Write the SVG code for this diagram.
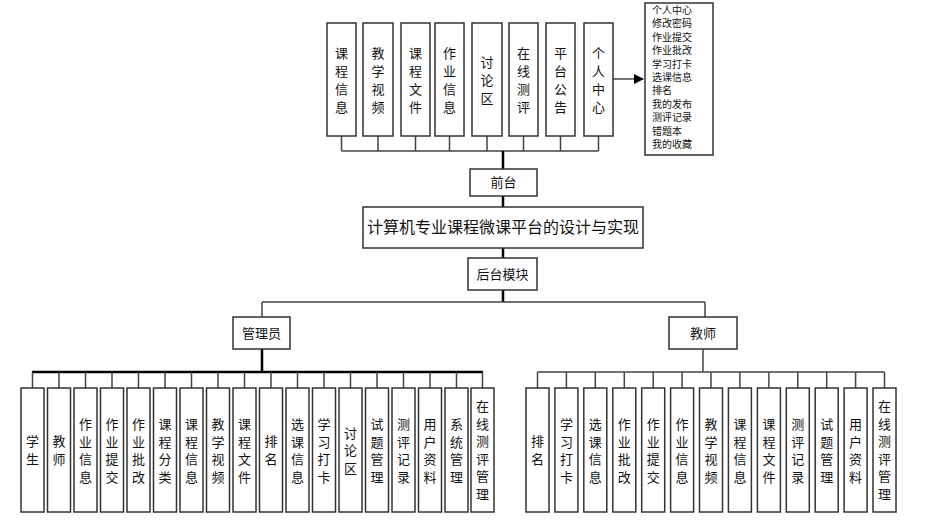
<svg xmlns="http://www.w3.org/2000/svg" width="926" height="529" viewBox="0 0 926 529">
<style>
rect{fill:#fff;stroke:#333;stroke-width:1.5}
text{font-family:"Noto Sans CJK SC",sans-serif;font-size:13px;fill:#111;text-anchor:middle}
.l{fill:none;stroke:#444;stroke-width:1.5}
.t{fill:none;stroke:#000;stroke-width:2.5}
.list{text-anchor:start;font-size:10px}
</style>
<defs><marker id="a" markerWidth="10" markerHeight="10" refX="9" refY="5" orient="auto" markerUnits="userSpaceOnUse"><path d="M0,0L10,5L0,10z" fill="#000"/></marker></defs>
<g id="connectors">
<path class="l" d="M341.5,136V151M378,136V151M415.5,136V151M449.5,136V151M487,136V151M523.5,136V151M560.5,136V151M598.5,136V151M341.5,151H598.5"/>
<path class="t" d="M503,151V169M503,196V207M503,248V258M503,290V302"/>
<path class="l" d="M613,79H643" marker-end="url(#a)"/>
<path class="l" d="M262,302H705M262,302V317M705,302V317"/>
<path class="t" d="M262,349V372M32,372H483"/>
<path class="l" d="M32.5,372V388M59,372V388M85.5,372V388M112,372V388M138.5,372V388M165,372V388M191.5,372V388M218,372V388M244.5,372V388M271,372V388M297.5,372V388M324,372V388M350.5,372V388M377,372V388M403.5,372V388M430,372V388M456.5,372V388M482.5,372V388"/>
<path class="l" d="M703,349V372M537.5,372H884.5M537.5,372V388M566.4,372V388M595.3,372V388M624.3,372V388M653.2,372V388M682.1,372V388M711,372V388M739.9,372V388M768.9,372V388M797.8,372V388M826.7,372V388M855.6,372V388M884.5,372V388"/>
</g>
<g id="top">
<g id="n1"><rect x="327" y="23" width="29" height="113"/><text><tspan x="341.5" y="58">课</tspan><tspan x="341.5" y="76">程</tspan><tspan x="341.5" y="94">信</tspan><tspan x="341.5" y="112">息</tspan></text></g>
<g id="n2"><rect x="363" y="23" width="30" height="113"/><text><tspan x="378" y="58">教</tspan><tspan x="378" y="76">学</tspan><tspan x="378" y="94">视</tspan><tspan x="378" y="112">频</tspan></text></g>
<g id="n3"><rect x="401" y="23" width="29" height="113"/><text><tspan x="415.5" y="58">课</tspan><tspan x="415.5" y="76">程</tspan><tspan x="415.5" y="94">文</tspan><tspan x="415.5" y="112">件</tspan></text></g>
<g id="n4"><rect x="435" y="23" width="29" height="113"/><text><tspan x="449.5" y="58">作</tspan><tspan x="449.5" y="76">业</tspan><tspan x="449.5" y="94">信</tspan><tspan x="449.5" y="112">息</tspan></text></g>
<g id="n5"><rect x="472" y="23" width="30" height="113"/><text><tspan x="487" y="67">讨</tspan><tspan x="487" y="85">论</tspan><tspan x="487" y="103">区</tspan></text></g>
<g id="n6"><rect x="509" y="23" width="29" height="113"/><text><tspan x="523.5" y="58">在</tspan><tspan x="523.5" y="76">线</tspan><tspan x="523.5" y="94">测</tspan><tspan x="523.5" y="112">评</tspan></text></g>
<g id="n7"><rect x="546" y="23" width="29" height="113"/><text><tspan x="560.5" y="58">平</tspan><tspan x="560.5" y="76">台</tspan><tspan x="560.5" y="94">公</tspan><tspan x="560.5" y="112">告</tspan></text></g>
<g id="n8"><rect x="584" y="23" width="29" height="113"/><text><tspan x="598.5" y="58">个</tspan><tspan x="598.5" y="76">人</tspan><tspan x="598.5" y="94">中</tspan><tspan x="598.5" y="112">心</tspan></text></g>
<g id="list"><rect x="645" y="3" width="68" height="152"/><text class="list"><tspan x="652" y="14">个人中心</tspan><tspan x="652" y="27.4">修改密码</tspan><tspan x="652" y="40.8">作业提交</tspan><tspan x="652" y="54.2">作业批改</tspan><tspan x="652" y="67.6">学习打卡</tspan><tspan x="652" y="81">选课信息</tspan><tspan x="652" y="94.4">排名</tspan><tspan x="652" y="107.8">我的发布</tspan><tspan x="652" y="121.2">测评记录</tspan><tspan x="652" y="134.6">错题本</tspan><tspan x="652" y="148">我的收藏</tspan></text></g>
<g id="front"><rect x="470" y="169" width="67" height="27"/><text x="503.5" y="187">前台</text></g>
<g id="title"><rect x="363" y="207" width="280" height="41"/><text x="503" y="233" style="font-size:16px">计算机专业课程微课平台的设计与实现</text></g>
<g id="back"><rect x="468" y="258" width="69" height="32"/><text x="502.5" y="279">后台模块</text></g>
<g id="admin"><rect x="233" y="317" width="57" height="32"/><text x="261.5" y="338">管理员</text></g>
<g id="teacher"><rect x="669" y="317" width="68" height="32"/><text x="703" y="338">教师</text></g>
</g>
<g id="adminLeaves">
<rect x="21" y="388" width="23" height="124"/><text><tspan x="32.5" y="446">学</tspan><tspan x="32.5" y="464">生</tspan></text>
<rect x="47.5" y="388" width="23" height="124"/><text><tspan x="59" y="446">教</tspan><tspan x="59" y="464">师</tspan></text>
<rect x="74" y="388" width="23" height="124"/><text><tspan x="85.5" y="429">作</tspan><tspan x="85.5" y="446.5">业</tspan><tspan x="85.5" y="464">信</tspan><tspan x="85.5" y="481.5">息</tspan></text>
<rect x="100.5" y="388" width="23" height="124"/><text><tspan x="112" y="429">作</tspan><tspan x="112" y="446.5">业</tspan><tspan x="112" y="464">提</tspan><tspan x="112" y="481.5">交</tspan></text>
<rect x="127" y="388" width="23" height="124"/><text><tspan x="138.5" y="429">作</tspan><tspan x="138.5" y="446.5">业</tspan><tspan x="138.5" y="464">批</tspan><tspan x="138.5" y="481.5">改</tspan></text>
<rect x="153.5" y="388" width="23" height="124"/><text><tspan x="165" y="429">课</tspan><tspan x="165" y="446.5">程</tspan><tspan x="165" y="464">分</tspan><tspan x="165" y="481.5">类</tspan></text>
<rect x="180" y="388" width="23" height="124"/><text><tspan x="191.5" y="429">课</tspan><tspan x="191.5" y="446.5">程</tspan><tspan x="191.5" y="464">信</tspan><tspan x="191.5" y="481.5">息</tspan></text>
<rect x="206.5" y="388" width="23" height="124"/><text><tspan x="218" y="429">教</tspan><tspan x="218" y="446.5">学</tspan><tspan x="218" y="464">视</tspan><tspan x="218" y="481.5">频</tspan></text>
<rect x="233" y="388" width="23" height="124"/><text><tspan x="244.5" y="429">课</tspan><tspan x="244.5" y="446.5">程</tspan><tspan x="244.5" y="464">文</tspan><tspan x="244.5" y="481.5">件</tspan></text>
<rect x="259.5" y="388" width="23" height="124"/><text><tspan x="271" y="446">排</tspan><tspan x="271" y="464">名</tspan></text>
<rect x="286" y="388" width="23" height="124"/><text><tspan x="297.5" y="429">选</tspan><tspan x="297.5" y="446.5">课</tspan><tspan x="297.5" y="464">信</tspan><tspan x="297.5" y="481.5">息</tspan></text>
<rect x="312.5" y="388" width="23" height="124"/><text><tspan x="324" y="429">学</tspan><tspan x="324" y="446.5">习</tspan><tspan x="324" y="464">打</tspan><tspan x="324" y="481.5">卡</tspan></text>
<rect x="339" y="388" width="23" height="124"/><text><tspan x="350.5" y="437.5">讨</tspan><tspan x="350.5" y="455">论</tspan><tspan x="350.5" y="472.5">区</tspan></text>
<rect x="365.5" y="388" width="23" height="124"/><text><tspan x="377" y="429">试</tspan><tspan x="377" y="446.5">题</tspan><tspan x="377" y="464">管</tspan><tspan x="377" y="481.5">理</tspan></text>
<rect x="392" y="388" width="23" height="124"/><text><tspan x="403.5" y="429">测</tspan><tspan x="403.5" y="446.5">评</tspan><tspan x="403.5" y="464">记</tspan><tspan x="403.5" y="481.5">录</tspan></text>
<rect x="418.5" y="388" width="23" height="124"/><text><tspan x="430" y="429">用</tspan><tspan x="430" y="446.5">户</tspan><tspan x="430" y="464">资</tspan><tspan x="430" y="481.5">料</tspan></text>
<rect x="445" y="388" width="23" height="124"/><text><tspan x="456.5" y="429">系</tspan><tspan x="456.5" y="446.5">统</tspan><tspan x="456.5" y="464">管</tspan><tspan x="456.5" y="481.5">理</tspan></text>
<rect x="471" y="388" width="23" height="124"/><text><tspan x="482.5" y="411">在</tspan><tspan x="482.5" y="428.5">线</tspan><tspan x="482.5" y="446">测</tspan><tspan x="482.5" y="463.5">评</tspan><tspan x="482.5" y="481">管</tspan><tspan x="482.5" y="498.5">理</tspan></text>
</g>
<g id="teacherLeaves">
<rect x="526" y="388" width="23" height="124"/><text><tspan x="537.5" y="446">排</tspan><tspan x="537.5" y="464">名</tspan></text>
<rect x="554.9" y="388" width="23" height="124"/><text><tspan x="566.4" y="429">学</tspan><tspan x="566.4" y="446.5">习</tspan><tspan x="566.4" y="464">打</tspan><tspan x="566.4" y="481.5">卡</tspan></text>
<rect x="583.8" y="388" width="23" height="124"/><text><tspan x="595.3" y="429">选</tspan><tspan x="595.3" y="446.5">课</tspan><tspan x="595.3" y="464">信</tspan><tspan x="595.3" y="481.5">息</tspan></text>
<rect x="612.8" y="388" width="23" height="124"/><text><tspan x="624.3" y="429">作</tspan><tspan x="624.3" y="446.5">业</tspan><tspan x="624.3" y="464">批</tspan><tspan x="624.3" y="481.5">改</tspan></text>
<rect x="641.7" y="388" width="23" height="124"/><text><tspan x="653.2" y="429">作</tspan><tspan x="653.2" y="446.5">业</tspan><tspan x="653.2" y="464">提</tspan><tspan x="653.2" y="481.5">交</tspan></text>
<rect x="670.6" y="388" width="23" height="124"/><text><tspan x="682.1" y="429">作</tspan><tspan x="682.1" y="446.5">业</tspan><tspan x="682.1" y="464">信</tspan><tspan x="682.1" y="481.5">息</tspan></text>
<rect x="699.5" y="388" width="23" height="124"/><text><tspan x="711" y="429">教</tspan><tspan x="711" y="446.5">学</tspan><tspan x="711" y="464">视</tspan><tspan x="711" y="481.5">频</tspan></text>
<rect x="728.4" y="388" width="23" height="124"/><text><tspan x="739.9" y="429">课</tspan><tspan x="739.9" y="446.5">程</tspan><tspan x="739.9" y="464">信</tspan><tspan x="739.9" y="481.5">息</tspan></text>
<rect x="757.4" y="388" width="23" height="124"/><text><tspan x="768.9" y="429">课</tspan><tspan x="768.9" y="446.5">程</tspan><tspan x="768.9" y="464">文</tspan><tspan x="768.9" y="481.5">件</tspan></text>
<rect x="786.3" y="388" width="23" height="124"/><text><tspan x="797.8" y="429">测</tspan><tspan x="797.8" y="446.5">评</tspan><tspan x="797.8" y="464">记</tspan><tspan x="797.8" y="481.5">录</tspan></text>
<rect x="815.2" y="388" width="23" height="124"/><text><tspan x="826.7" y="429">试</tspan><tspan x="826.7" y="446.5">题</tspan><tspan x="826.7" y="464">管</tspan><tspan x="826.7" y="481.5">理</tspan></text>
<rect x="844.1" y="388" width="23" height="124"/><text><tspan x="855.6" y="429">用</tspan><tspan x="855.6" y="446.5">户</tspan><tspan x="855.6" y="464">资</tspan><tspan x="855.6" y="481.5">料</tspan></text>
<rect x="873" y="388" width="23" height="124"/><text><tspan x="884.5" y="411">在</tspan><tspan x="884.5" y="428.5">线</tspan><tspan x="884.5" y="446">测</tspan><tspan x="884.5" y="463.5">评</tspan><tspan x="884.5" y="481">管</tspan><tspan x="884.5" y="498.5">理</tspan></text>
</g>
</svg>
